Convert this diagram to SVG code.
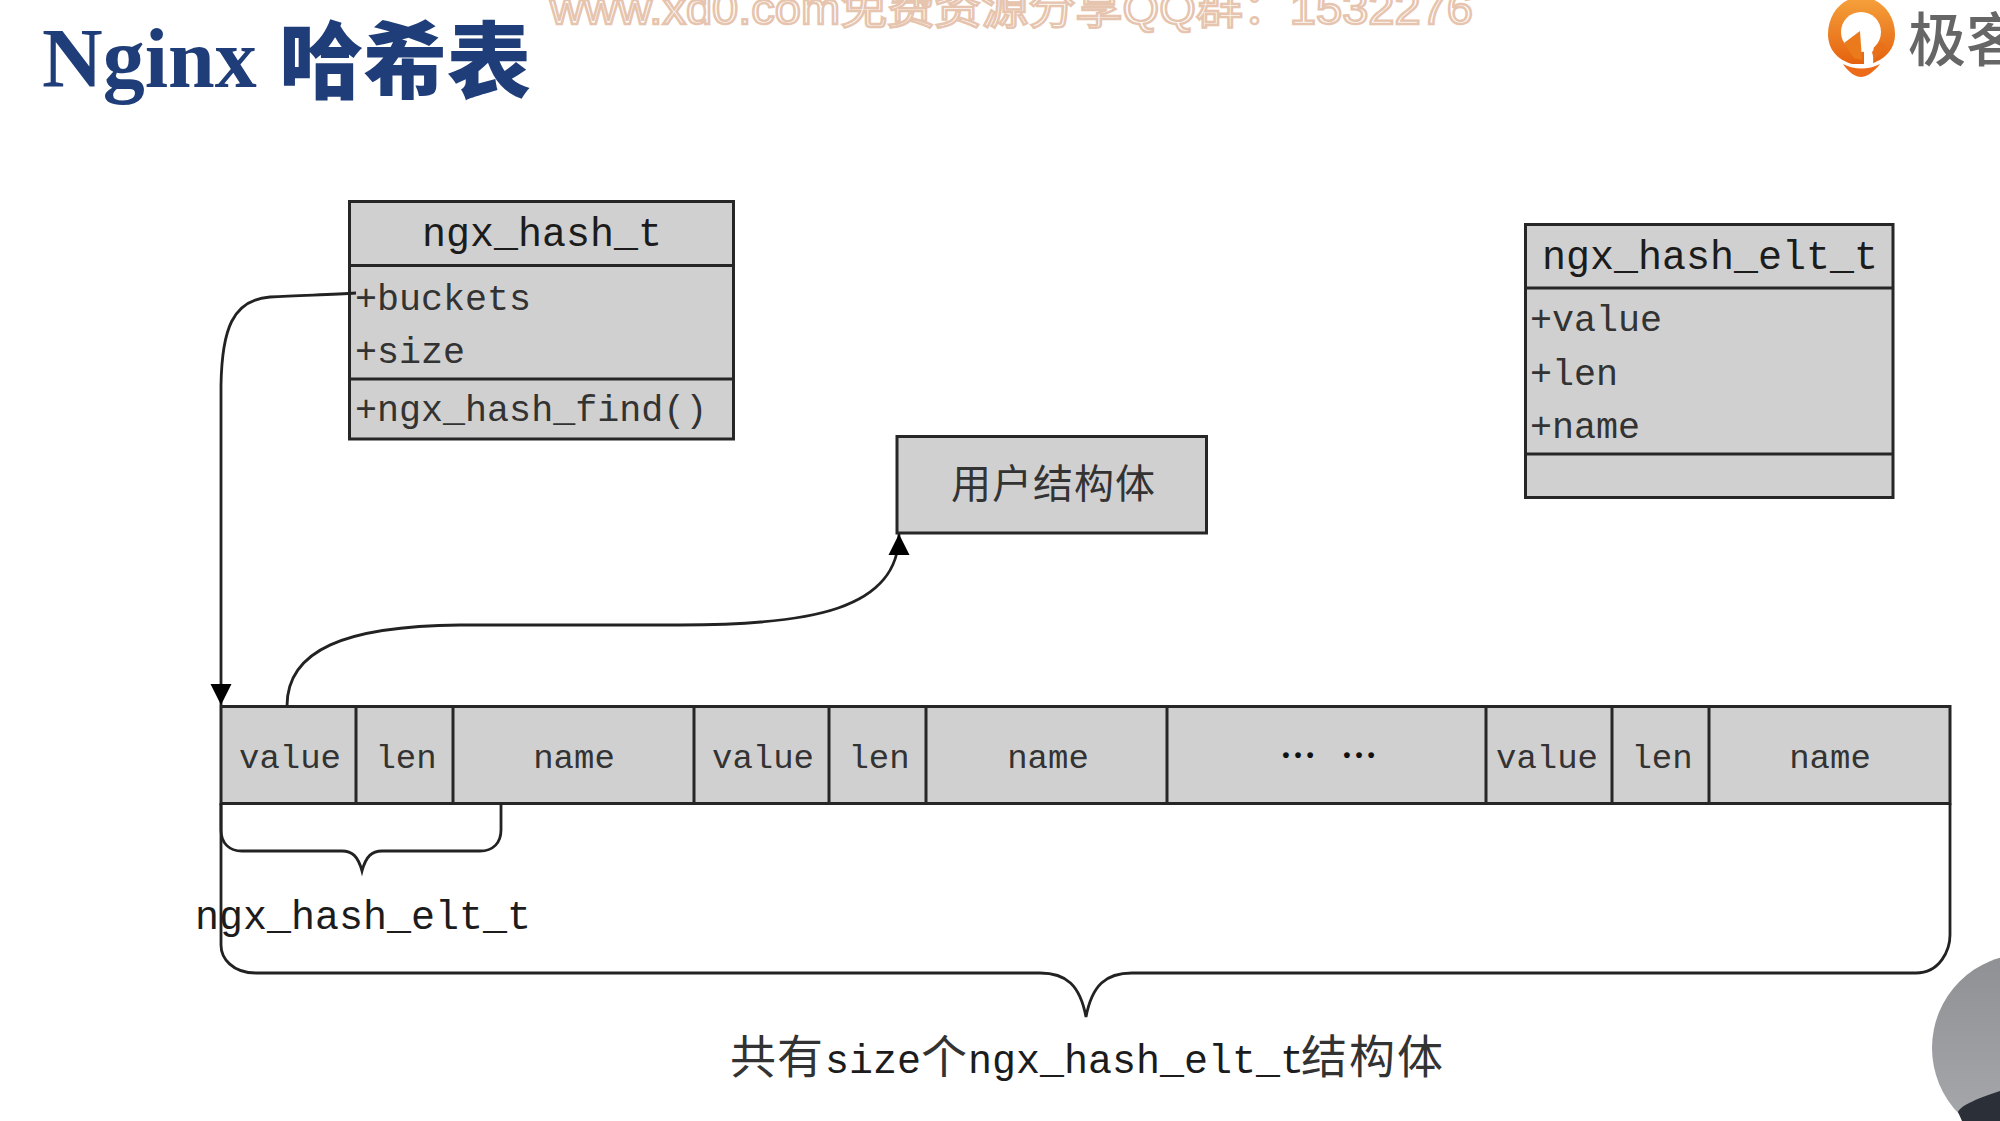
<svg xmlns="http://www.w3.org/2000/svg" width="2000" height="1121" viewBox="0 0 2000 1121">
<style>
.box{fill:#d0d0d0;stroke:#262626;stroke-width:3}
.div{fill:none;stroke:#262626;stroke-width:3}
.con{fill:none;stroke:#222;stroke-width:2.8}
.ti{font:40px "Liberation Mono","Noto Sans CJK SC",monospace;fill:#1c1c1c}
.me{font:36.7px "Liberation Mono","Noto Sans CJK SC",monospace;fill:#333}
.ce{font:34px "Liberation Mono","Noto Sans CJK SC",monospace;fill:#333;text-anchor:middle}
.cj{font-family:"Noto Sans CJK SC",sans-serif;font-weight:400;fill:#333}
</style>
<defs>
<marker id="arr" markerUnits="userSpaceOnUse" markerWidth="24" markerHeight="24" refX="21" refY="12" orient="auto"><path d="M0 1.5 L21 12 L0 22.5 Z" fill="#000"/></marker>
<linearGradient id="pin" x1="0" y1="0" x2="0" y2="1"><stop offset="0" stop-color="#f5a23c"/><stop offset="1" stop-color="#e5620f"/></linearGradient>
<linearGradient id="ava" x1="0" y1="0" x2="0" y2="1"><stop offset="0" stop-color="#8f9094"/><stop offset="1" stop-color="#a9aaad"/></linearGradient>
</defs>
<rect width="2000" height="1121" fill="#fff"/>
<g id="title">
<text x="42" y="87" font-family="Liberation Serif" font-weight="700" font-size="84" fill="#1f3d78">Nginx</text>
<text x="279" y="92" font-family="Noto Sans CJK SC,sans-serif" font-weight="900" font-size="84" fill="#1f3d78">哈希表</text>
</g>
<g id="watermark">
<text x="550" y="24" font-family="Liberation Sans,Noto Sans CJK SC,sans-serif" font-size="45" fill="#fff" stroke="#e6c4ae" stroke-width="2.4" textLength="923" lengthAdjust="spacingAndGlyphs">www.xd0.com免费资源分享QQ群：1532276</text>
</g>
<g id="logo">
<path fill="url(#pin)" d="M1861 -3 C1880 -3 1895 14 1895 34 C1895 50 1884 60 1870 64 L1852 64 C1838 60 1828 50 1828 34 C1828 14 1842 -3 1861 -3 Z"/>
<circle cx="1861" cy="32" r="20" fill="#fff"/>
<path fill="#fff" d="M1864 34 H1874 L1873 66 H1864 Z"/>
<path fill="#ea7a1c" d="M1844 43 L1860 31 L1862 60 L1854 58 Z"/>
<path fill="#e9701a" d="M1872 52 L1881 42 L1886 46 L1874 60 Z"/>
<path fill="#ec6a18" d="M1843 64 C1855 70 1868 70 1880 64 C1873 73 1866 77 1861 77 C1856 77 1849 73 1843 64 Z"/>
<text x="1908" y="61" font-family="Noto Sans CJK SC,sans-serif" font-weight="500" font-size="58" fill="#666">极客</text>
</g>
<g id="presenter">
<circle cx="2026" cy="1048" r="94" fill="url(#ava)"/>
<path d="M1962 1121 L1958 1112 C1962 1104 1980 1098 2000 1091 L2000 1121 Z" fill="#2b2f38"/>
</g>
<g id="ngx_hash_t">
<rect class="box" x="349.5" y="201.5" width="384" height="237.5"/>
<path class="div" d="M349.5 265.5H733.5M349.5 379H733.5"/>
<text class="ti" x="422" y="246">ngx_hash_t</text>
<text class="me" x="355" y="310">+buckets</text>
<text class="me" x="355" y="363">+size</text>
<text class="me" x="355" y="421">+ngx_hash_find()</text>
</g>
<g id="ngx_hash_elt_t">
<rect class="box" x="1525.5" y="224.5" width="367.5" height="273"/>
<path class="div" d="M1525.5 288H1893M1525.5 454H1893"/>
<text class="ti" x="1542" y="269">ngx_hash_elt_t</text>
<text class="me" x="1530" y="331">+value</text>
<text class="me" x="1530" y="385">+len</text>
<text class="me" x="1530" y="438">+name</text>
</g>
<g id="user_struct">
<rect class="box" x="897" y="436.5" width="309.5" height="96.5"/>
<text class="cj" x="951" y="498" font-size="40" letter-spacing="1">用户结构体</text>
</g>
<g id="array">
<rect class="box" x="221" y="706.5" width="1729" height="97"/>
<path class="div" d="M356 706.5V803.5M453 706.5V803.5M694 706.5V803.5M829 706.5V803.5M926 706.5V803.5M1167 706.5V803.5M1486 706.5V803.5M1612 706.5V803.5M1709 706.5V803.5"/>
<text class="ce" x="290" y="768">value</text>
<text class="ce" x="406" y="768">len</text>
<text class="ce" x="574" y="768">name</text>
<text class="ce" x="763" y="768">value</text>
<text class="ce" x="879" y="768">len</text>
<text class="ce" x="1048" y="768">name</text>
<text x="1280" y="758" font-family="Liberation Serif" font-weight="700" font-size="36" word-spacing="16" fill="#111">… …</text>
<text class="ce" x="1547" y="768">value</text>
<text class="ce" x="1662" y="768">len</text>
<text class="ce" x="1830" y="768">name</text>
</g>
<g id="connectors">
<path class="con" marker-end="url(#arr)" d="M356 293 C330 295 300 295 270 297 C232 300 222 330 221 385 L221 705"/>
<path class="con" marker-end="url(#arr)" d="M287 706 C287 650 345 626 460 625 L680 625 C810 625 899 610 899 534"/>
<path class="con" d="M221 803.5 V830 C221 843 229 851 242 851 H342 C352 851 358 856 362 871 C366 856 372 851 382 851 H480 C493 851 501 843 501 830 V803.5"/>
<path class="con" d="M221 803.5 V945 C221 958 232 973 256 973 H1040 C1066 973 1080 985 1086 1017 C1092 985 1106 973 1132 973 H1916 C1940 973 1950 950 1950 935 V803.5"/>
</g>
<g id="labels">
<text class="ti" x="195" y="929">ngx_hash_elt_t</text>
<text class="ti" x="730" y="1073"><tspan class="cj" font-size="46" letter-spacing="1">共有</tspan><tspan x="825">size</tspan><tspan class="cj" x="921" font-size="46">个</tspan><tspan x="968">ngx_hash_elt_t</tspan><tspan class="cj" x="1301" font-size="46" letter-spacing="2">结构体</tspan></text>
</g>
</svg>
